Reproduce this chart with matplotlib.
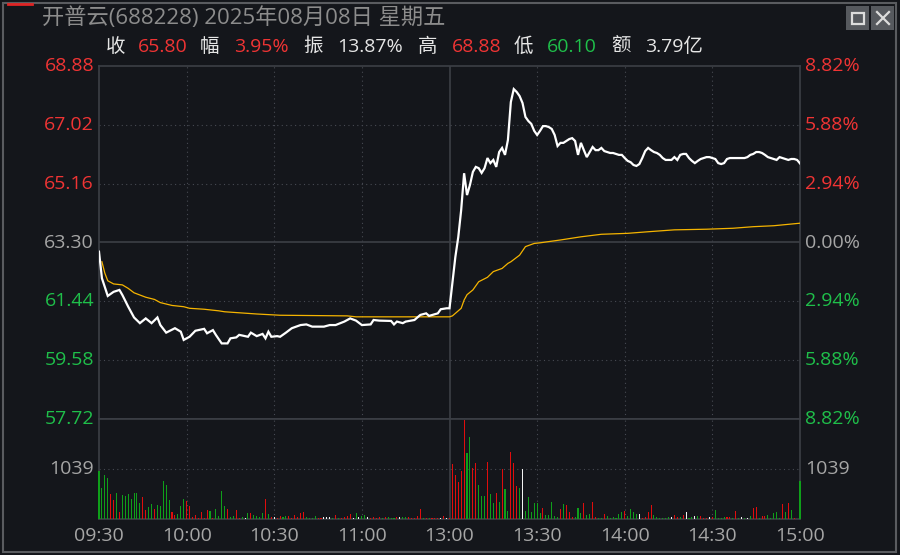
import matplotlib
matplotlib.use("Agg")
import matplotlib.pyplot as plt
import matplotlib.transforms as mtransforms
from matplotlib.patches import Rectangle
from matplotlib.lines import Line2D

plt.rcParams['font.family'] = ['Open Sans', 'Noto Sans CJK SC', 'DejaVu Sans']

# ---- data ----
title = "开普云(688228) 2025年08月08日 星期五"
prev_close = 63.30
price_levels = [68.88, 67.02, 65.16, 63.30, 61.44, 59.58, 57.72]
pct_labels = ["8.82%", "5.88%", "2.94%", "0.00%", "2.94%", "5.88%", "8.82%"]
vol_tick = 1039
vol_max = 2078
time_ticks = [0, 30, 60, 90, 120, 150, 180, 210, 240]
time_labels = ["09:30", "10:00", "10:30", "11:00", "13:00", "13:30", "14:00", "14:30", "15:00"]

stats_labels = ["收", "幅", "振", "高", "低", "额"]
stats_values = ["65.80", "3.95%", "13.87%", "68.88", "60.10", "3.79亿"]
stats_kinds = ["up", "up", "flat", "up", "down", "flat"]

# minutes since 09:30 (121 morning points, 13:00 continues at 120)
price_minutes = [
    0, 1, 3, 5, 7, 8, 10, 12, 14, 16, 18, 20, 21, 23, 26, 28, 29, 31, 33, 36,
    37, 39, 40, 42, 44, 45, 47, 48, 51, 52, 54, 56, 57, 58, 59, 61, 62, 64, 66, 69,
    71, 73, 77, 79, 81, 84, 86, 88, 90, 93, 94, 96, 100, 101, 102, 104, 105, 108, 110, 112,
    113, 116, 117, 119, 120,
] + list(range(121, 241))
price_values = [
    63.01, 62.17, 61.61, 61.74, 61.80, 61.64, 61.27, 60.93, 60.75, 60.90,
    60.75, 60.93, 60.69, 60.45, 60.59, 60.48, 60.22, 60.32, 60.51, 60.57,
    60.43, 60.53, 60.38, 60.11, 60.11, 60.27, 60.30, 60.38, 60.32, 60.45,
    60.34, 60.41, 60.27, 60.48, 60.32, 60.34, 60.32, 60.45, 60.59, 60.69,
    60.71, 60.64, 60.64, 60.69, 60.69, 60.80, 60.90, 60.83, 60.69, 60.71,
    60.85, 60.83, 60.82, 60.71, 60.80, 60.75, 60.80, 60.85, 61.01, 61.06,
    60.98, 61.06, 61.19, 61.22, 61.22,
    # 13:01 - 15:00
    62.02, 62.84, 63.47, 64.33, 65.49, 64.80, 65.12, 65.53, 65.69, 65.65,
    65.50, 65.65, 65.97, 65.81, 65.91, 65.69, 66.16, 66.29, 66.07, 66.54,
    67.74, 68.15, 68.06, 67.93, 67.71, 67.27, 67.14, 67.05, 66.83, 66.70,
    66.83, 66.98, 66.98, 66.95, 66.89, 66.70, 66.35, 66.45, 66.45, 66.51,
    66.57, 66.60, 66.51, 66.07, 66.45, 66.22, 66.00, 66.16, 66.32, 66.22,
    66.22, 66.29, 66.19, 66.16, 66.13, 66.13, 66.10, 66.07, 66.07, 65.97,
    65.88, 65.84, 65.75, 65.72, 65.78, 65.97, 66.19, 66.29, 66.22, 66.16,
    66.13, 66.07, 65.97, 65.91, 65.91, 65.91, 66.00, 65.91, 66.07, 66.10,
    66.10, 65.97, 65.88, 65.81, 65.88, 65.94, 65.97, 66.00, 66.00, 65.97,
    65.94, 65.81, 65.78, 65.81, 65.94, 65.97, 65.97, 65.97, 65.97, 65.97,
    65.97, 66.00, 66.07, 66.10, 66.16, 66.16, 66.13, 66.07, 66.00, 65.97,
    65.94, 65.91, 66.00, 65.97, 65.94, 65.91, 65.94, 65.94, 65.91, 65.80,
]

avg_minutes = [1, 2, 3, 5, 8, 10, 12, 16, 19, 21, 25, 29, 31, 36, 41, 43, 54, 62, 85, 88,
               120, 121, 122, 124, 125, 126, 128, 130, 133, 135, 138, 140, 141, 144, 146,
               149, 151, 158, 165, 172, 181, 188, 197, 208, 217, 224, 231, 240]
avg_values = [62.69, 62.33, 62.09, 61.99, 61.96, 61.85, 61.71, 61.57, 61.50, 61.40,
              61.31, 61.27, 61.22, 61.19, 61.14, 61.11, 61.04, 61.00, 60.98, 60.95,
              60.95, 60.98, 61.06, 61.22, 61.48, 61.65, 61.80, 62.06, 62.20, 62.38,
              62.48, 62.64, 62.69, 62.90, 63.17, 63.27, 63.29, 63.38, 63.48, 63.56,
              63.59, 63.64, 63.70, 63.72, 63.75, 63.80, 63.83, 63.91]

volume = [
    998, 651, 914, 852, 520, 395, 540, 145, 499, 478,
    520, 416, 540, 540, 333, 457, 187, 249, 312, 208,
    291, 270, 790, 707, 395, 145, 83, 104, 270, 416,
    374, 270, 42, 83, 21, 145, 21, 187, 166, 21,
    208, 62, 582, 270, 208, 42, 62, 187, 21, 42,
    21, 125, 125, 83, 62, 42, 125, 416, 104, 42,
    42,
    21, 62, 42, 62, 62, 21, 83, 42, 125, 145,
    42, 21, 21, 62, 21, 21, 42, 42, 42, 21,
    83, 21, 21, 42, 62, 104, 21, 125, 42, 62,
    83, 42, 21, 42, 21, 42, 21, 42, 42, 21,
    21, 42, 42, 42, 42, 42, 21, 21, 62, 208,
    21, 21, 21, 21, 21, 21, 21, 62, 21, 21,
    1143, 914, 769, 998, 2057, 1371, 1704, 1060, 1164, 707,
    478, 478, 1184, 520, 333, 540, 353, 1039, 623, 166,
    1392, 1164, 686, 644, 1039, 166, 457, 145, 333, 333,
    125, 229, 83, 83, 353, 62, 42, 208, 312, 291,
    145, 42, 42, 229, 125, 333, 83, 104, 353, 42,
    21, 21, 104, 62, 21, 42, 21, 104, 145, 166,
    62, 208, 145, 104, 104, 21, 42, 145, 291, 83,
    42, 21, 21, 21, 42, 42, 83, 42, 42, 83,
    145, 21, 42, 62, 62, 62, 21, 21, 42, 42,
    187, 21, 21, 42, 42, 42, 21, 166, 21, 42,
    21, 21, 62, 229, 249, 21, 62, 62, 83, 21,
    125, 145, 21, 312, 145, 333, 187, 21, 0, 790,
]
# r = up tick, g = down tick, w = unchanged
vol_dirs = (
    "ggggrrgrgg" "gggggrrggr" "gggggrrggg" "rrrrrrrrgr" "ggggrggrrg" "wgrggggrgr" "w"
    "rrggrrrrrr" "ggggrrwwwg" "rgrrrrwgwg" "gwrrrrgrgg" "grwggrrrrr" "grgrrrwrwr"
    "rrrrrggrrg" "ggrggrgrgg" "rrrgwggggg" "grgggggrgr" "rrgggrggrr" "ggrggggggr"
    "ggggwrrrrg" "gggggwrrgr" "wggwgrrrwr" "ggggrrgrgw" "gwgrrgrrgg" "gggrgrgrrg"
)

# ---- styling ----
BG = "#14161b"
RED = "#f03434"
GREEN = "#1fbf4a"
GRAY_TXT = "#a6a6a6"
FRAME = "#3c3f46"
DOT = "#474a52"
bar_colors = {"r": "#e00d0d", "g": "#0f9f1a", "w": "#f2f2f2"}
FS = 14

W, H = 900, 555
fig = plt.figure(figsize=(W / 100, H / 100), dpi=100, facecolor=BG)


def box(x0, y0, x1, y1):
    return [x0 / W, 1 - y1 / H, (x1 - x0) / W, (y1 - y0) / H]


ax_p = fig.add_axes(box(99, 66, 800, 419))
ax_v = fig.add_axes(box(99, 419, 800, 519))

for ax in (ax_p, ax_v):
    ax.set_facecolor(BG)
    ax.set_xlim(0, 240)
    ax.set_xticks([])
    ax.set_yticks([])
    for sp in ax.spines.values():
        sp.set_color(FRAME)
        sp.set_linewidth(1.2)
    for t in time_ticks[1:-1]:
        if t == 120:
            ax.axvline(t, color=FRAME, lw=1.2, zorder=1)
        else:
            ax.axvline(t, color=DOT, lw=0.8, ls=(0, (1, 3)), zorder=1)

ax_p.set_ylim(price_levels[-1], price_levels[0])
ax_v.set_ylim(0, vol_max)

for lv in price_levels[1:-1]:
    if lv == prev_close:
        ax_p.axhline(lv, color=FRAME, lw=1.2, zorder=1)
    else:
        ax_p.axhline(lv, color=DOT, lw=0.8, ls=(0, (1, 3)), zorder=1)
ax_v.axhline(vol_tick, color=DOT, lw=0.8, ls=(0, (1, 3)), zorder=1)

# lines
ax_p.plot(avg_minutes, avg_values, color="#f5b400", lw=0.9, zorder=3)
ax_p.plot(price_minutes, price_values, color="white", lw=1.6, zorder=4,
          solid_joinstyle="miter")

# volume bars
ax_v.bar(range(len(volume)), volume, width=0.36,
         color=[bar_colors[c] for c in vol_dirs], clip_on=False, zorder=3)

# axis labels
left_tr = mtransforms.offset_copy(ax_p.get_yaxis_transform(), fig=fig, x=-5, units="dots")
right_tr = mtransforms.offset_copy(ax_p.get_yaxis_transform(), fig=fig, x=5, units="dots")
for lv, pl in zip(price_levels, pct_labels):
    if lv > prev_close:
        c = RED
    elif lv < prev_close:
        c = GREEN
    else:
        c = GRAY_TXT
    ax_p.text(0, lv, f"{lv:.2f}", transform=left_tr, ha="right", va="center",
              color=c, fontsize=FS)
    ax_p.text(1, lv, pl, transform=right_tr, ha="left", va="center",
              color=c, fontsize=FS)

vl_tr = mtransforms.offset_copy(ax_v.get_yaxis_transform(), fig=fig, x=-5, units="dots")
vr_tr = mtransforms.offset_copy(ax_v.get_yaxis_transform(), fig=fig, x=5, units="dots")
ax_v.text(0, vol_tick, str(vol_tick), transform=vl_tr, ha="right", va="center",
          color=GRAY_TXT, fontsize=FS)
ax_v.text(1, vol_tick, str(vol_tick), transform=vr_tr, ha="left", va="center",
          color=GRAY_TXT, fontsize=FS)

bt_tr = mtransforms.offset_copy(ax_v.get_xaxis_transform(), fig=fig, y=-17, units="dots")
for t, lab in zip(time_ticks, time_labels):
    ax_v.text(t, 0, lab, transform=bt_tr, ha="center", va="center",
              color=GRAY_TXT, fontsize=FS)

# header
fig.text(42 / W, 1 - 18 / H, title, color="#8c8c8c", fontsize=16,
         ha="left", va="center")

stats_label_x = [106, 200, 303, 418, 514, 611]
stats_value_x = [138, 234, 337, 452, 547, 645]
kind_color = {"up": RED, "down": GREEN, "flat": "#e6e6e6"}
for lab, val, kind, lx, vx in zip(stats_labels, stats_values, stats_kinds,
                                  stats_label_x, stats_value_x):
    fig.text(lx / W, 1 - 47 / H, lab, color="#e6e6e6", fontsize=FS,
             ha="left", va="center")
    fig.text(vx / W, 1 - 47 / H, val, color=kind_color[kind], fontsize=FS,
             ha="left", va="center")

# window frame and buttons
fig.patches.append(Rectangle((3 / W, 1 - 552 / H), 893 / W, 549 / H,
                             transform=fig.transFigure, fill=False,
                             edgecolor="#5a5c60", lw=1.5))
fig.lines.append(Line2D([8 / W, 32 / W], [1 - 3.5 / H, 1 - 3.5 / H],
                        transform=fig.transFigure, color="#e02424", lw=2))
for bx in (846, 871):
    fig.patches.append(Rectangle((bx / W, 1 - 30 / H), 23 / W, 24 / H,
                                 transform=fig.transFigure, facecolor="#56595e",
                                 edgecolor="none"))
fig.patches.append(Rectangle((852 / W, 1 - 24 / H), 12 / W, 11 / H,
                             transform=fig.transFigure, fill=False,
                             edgecolor="#dcdcdc", lw=1.6))
fig.lines.append(Line2D([877 / W, 889 / W], [1 - 12 / H, 1 - 24 / H],
                        transform=fig.transFigure, color="#dcdcdc", lw=1.6))
fig.lines.append(Line2D([877 / W, 889 / W], [1 - 24 / H, 1 - 12 / H],
                        transform=fig.transFigure, color="#dcdcdc", lw=1.6))

fig.savefig("out.png", dpi=100, facecolor=BG)
